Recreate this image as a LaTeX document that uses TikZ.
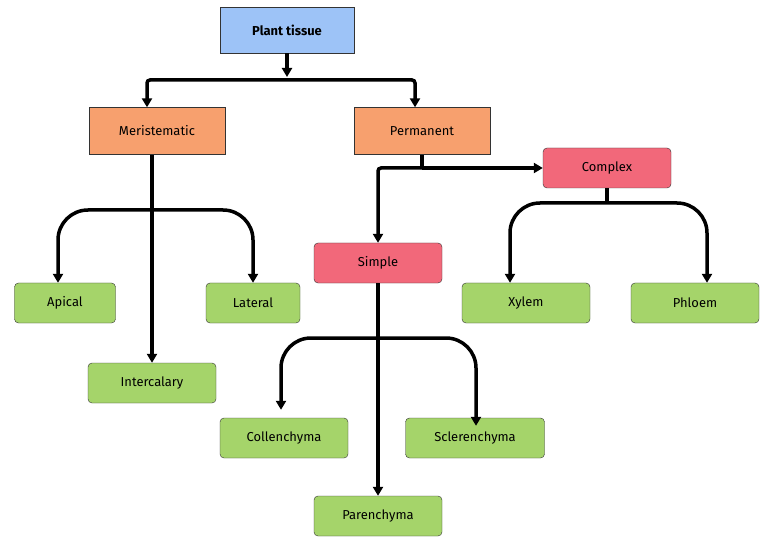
\documentclass[tikz,border=0pt]{standalone}
\usepackage{fontspec}
\setmainfont{Fira Sans}
\usepackage{tikz}
\usetikzlibrary{arrows.meta}
\definecolor{tblue}{HTML}{9DC3F7}
\definecolor{torange}{HTML}{F7A06E}
\definecolor{tpink}{HTML}{F2687A}
\definecolor{tgreen}{HTML}{A5D46A}
\begin{document}
\begin{tikzpicture}[x=1bp,y=-1bp]
   \tikzstyle{box} = [draw=black!80,inner sep=0pt,minimum height=40bp,
     font=\fontsize{13}{15}\selectfont]
   \tikzstyle{top} = [box,fill=tblue,minimum width=134bp,minimum height=46bp,
     font=\fontsize{13}{15}\selectfont\bfseries]
   \tikzstyle{type} = [box,fill=torange,minimum width=136bp,minimum height=47bp]
   \tikzstyle{sub} = [box,fill=tpink,rounded corners=4bp,minimum width=128bp]
   \tikzstyle{leaf} = [box,fill=tgreen,rounded corners=4bp,minimum width=128bp]
   \tikzstyle{link} = [draw,line width=3.5bp,-{Triangle[length=9bp,width=10bp]}]
   \tikzstyle{fork} = [draw,line width=3.5bp,rounded corners=30bp,
     {Triangle[length=9bp,width=10bp]}-{Triangle[length=9bp,width=10bp]}]
   \useasboundingbox (0,0) rectangle (768,537);
    %%
    \node [top] (plant) at (287,30) {Plant tissue};
    \node [type] (mer) at (157,131) {Meristematic};
    \node [type] (perm) at (422,131) {Permanent};
    \node [sub] (complex) at (607,168) {Complex};
    \node [sub] (simple) at (378,263) {Simple};
    \node [leaf,minimum width=101bp] (apical) at (65,303) {Apical};
    \node [leaf,minimum width=94bp] (lateral) at (253,303) {Lateral};
    \node [leaf] (inter) at (152,383) {Intercalary};
    \node [leaf] (xylem) at (526,303) {Xylem};
    \node [leaf] (phloem) at (695,303) {Phloem};
    \node [leaf] (coll) at (284,438) {Collenchyma};
    \node [leaf,minimum width=139bp] (scler) at (475,438) {Sclerenchyma};
    \node [leaf] (paren) at (378,516) {Parenchyma};
    %%
    \path [link] (plant) -- ++(0,47);
    \path [fork,rounded corners=3bp] ([xshift=-10bp]mer.north) |- (287,80) -| (perm.north -| 415,0);
    \path [link] (mer.south -| inter) -- (inter);
    \path [fork] (apical.north -| 58,0) |- (155,210) -| (lateral.north);
    \path [draw,line width=3.5bp] (perm.south) -- (422,168);
    \path [link,rounded corners=3bp] (422,168) -| (simple);
    \path [link] (422,168) -- (complex);
    \path [draw,line width=3.5bp] (complex) -- (607,203);
    \path [fork] (xylem.north -| 510,0) |- (607,203) -| (phloem.north -| 707,0);
    \path [link] (simple) -- (paren);
    \path [fork] (coll.north -| 281,0) ++(0,-8) |- (378,338) -| ([yshift=-8bp]scler.north -| 476,0);
  \end{tikzpicture}
\end{document}
